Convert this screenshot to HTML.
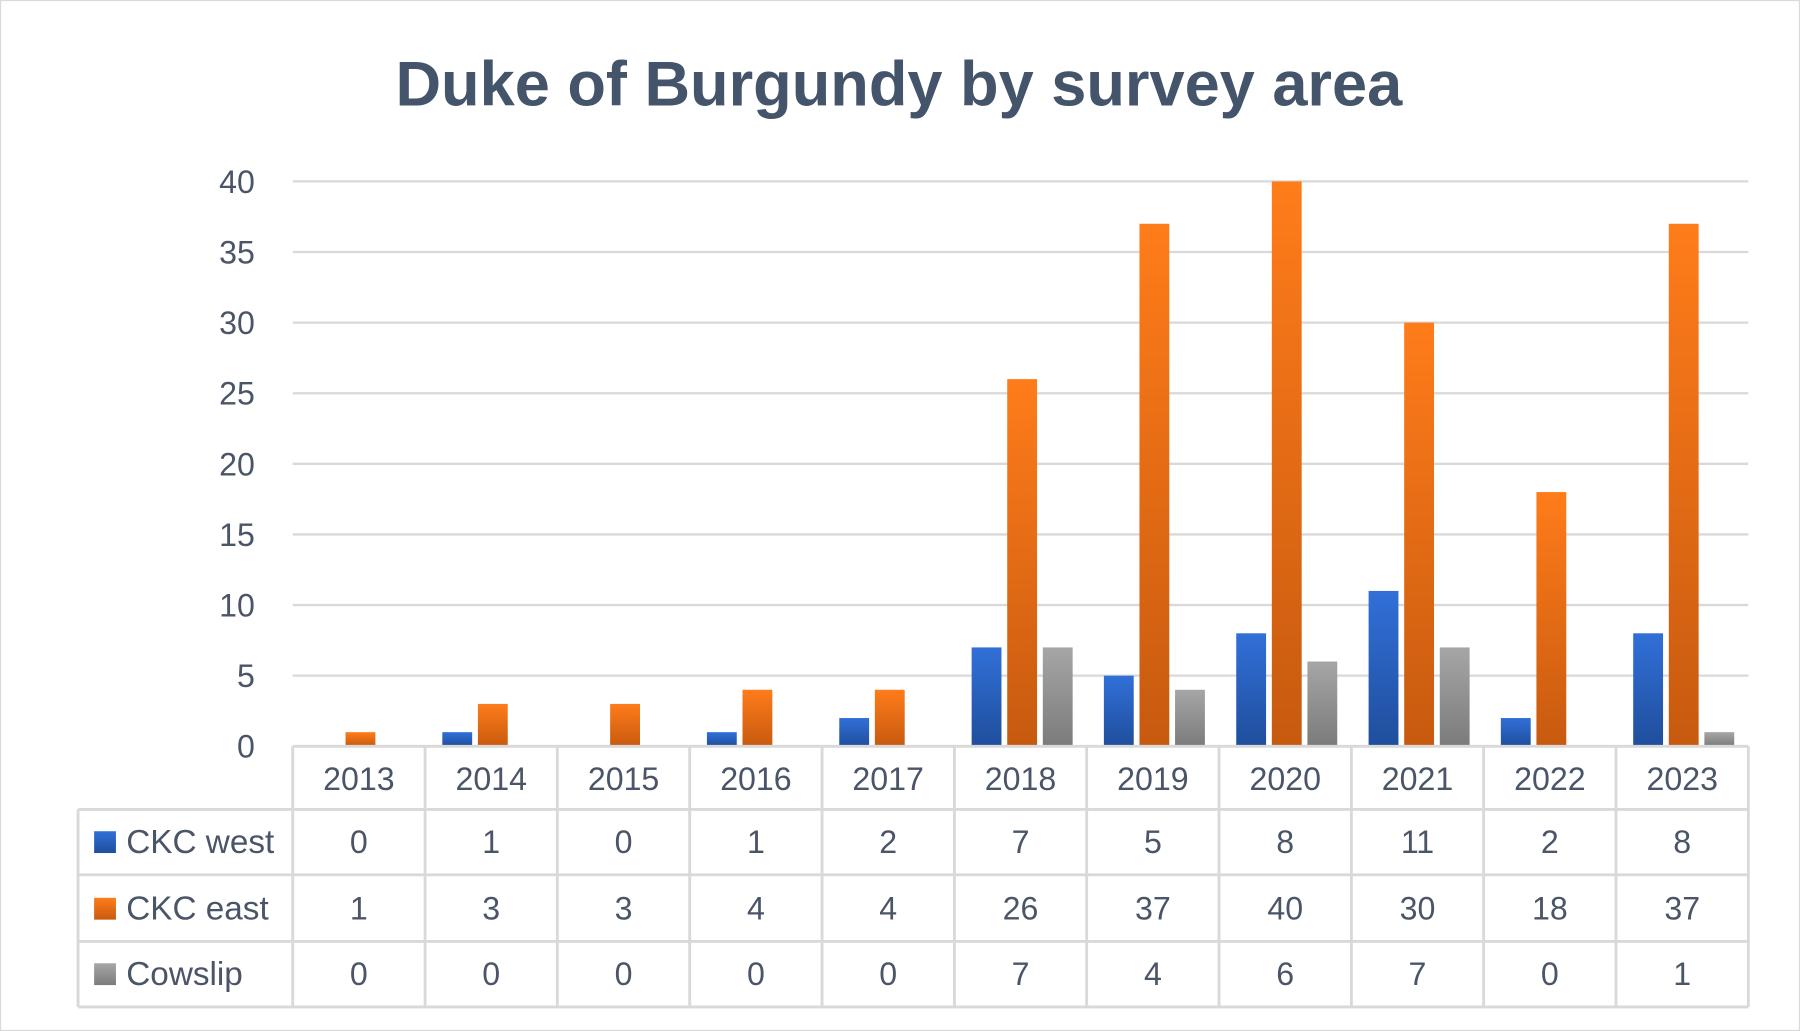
<!DOCTYPE html>
<html><head><meta charset="utf-8"><style>
html,body{margin:0;padding:0;background:#fff;}
svg{display:block;}
text{font-family:"Liberation Sans",sans-serif;fill:#4a5568;}
</style></head><body>
<svg width="1800" height="1031" viewBox="0 0 1568 898" preserveAspectRatio="none" xmlns="http://www.w3.org/2000/svg">
<defs>
<linearGradient id="gb" x1="0" y1="0" x2="0" y2="1"><stop offset="0" stop-color="#3170d8"/><stop offset="1" stop-color="#1f4e9c"/></linearGradient>
<linearGradient id="go" x1="0" y1="0" x2="0" y2="1"><stop offset="0" stop-color="#ff7c1a"/><stop offset="1" stop-color="#c75a0f"/></linearGradient>
<linearGradient id="gg" x1="0" y1="0" x2="0" y2="1"><stop offset="0" stop-color="#a6a6a6"/><stop offset="1" stop-color="#7b7b7b"/></linearGradient>
</defs>
<rect x="0.5" y="0.5" width="1567" height="897" fill="#fff" stroke="#d9d9d9"/>
<text x="783" y="92" text-anchor="middle" style="font-size:55px;font-weight:bold;fill:#44546a">Duke of Burgundy by survey area</text>
<g stroke="#d9d9d9" stroke-width="2">
<line x1="255" y1="158" x2="1523" y2="158"/><line x1="255" y1="219.5" x2="1523" y2="219.5"/><line x1="255" y1="281" x2="1523" y2="281"/><line x1="255" y1="342.5" x2="1523" y2="342.5"/><line x1="255" y1="404" x2="1523" y2="404"/><line x1="255" y1="465.5" x2="1523" y2="465.5"/><line x1="255" y1="527" x2="1523" y2="527"/><line x1="255" y1="588.5" x2="1523" y2="588.5"/>
</g>
<g style="font-size:28px" text-anchor="end">
<text x="222" y="168">40</text><text x="222" y="229.5">35</text><text x="222" y="291">30</text><text x="222" y="352.5">25</text><text x="222" y="414">20</text><text x="222" y="475.5">15</text><text x="222" y="537">10</text><text x="222" y="598.5">5</text><text x="222" y="660">0</text>
</g>
<g fill="url(#gb)">
<rect x="385.3" y="637.7" width="26" height="12.3"/><rect x="615.8" y="637.7" width="26" height="12.3"/><rect x="731.1" y="625.4" width="26" height="24.6"/><rect x="846.4" y="563.9" width="26" height="86.1"/><rect x="961.6" y="588.5" width="26" height="61.5"/><rect x="1076.9" y="551.6" width="26" height="98.4"/><rect x="1192.2" y="514.7" width="26" height="135.3"/><rect x="1307.4" y="625.4" width="26" height="24.6"/><rect x="1422.7" y="551.6" width="26" height="98.4"/>
</g>
<g fill="url(#go)">
<rect x="301" y="637.7" width="26" height="12.3"/><rect x="416.3" y="613.1" width="26" height="36.9"/><rect x="531.5" y="613.1" width="26" height="36.9"/><rect x="646.8" y="600.8" width="26" height="49.2"/><rect x="762.1" y="600.8" width="26" height="49.2"/><rect x="877.4" y="330.2" width="26" height="319.8"/><rect x="992.6" y="194.9" width="26" height="455.1"/><rect x="1107.9" y="158" width="26" height="492"/><rect x="1223.2" y="281" width="26" height="369"/><rect x="1338.4" y="428.6" width="26" height="221.4"/><rect x="1453.7" y="194.9" width="26" height="455.1"/>
</g>
<g fill="url(#gg)">
<rect x="908.4" y="563.9" width="26" height="86.1"/><rect x="1023.6" y="600.8" width="26" height="49.2"/><rect x="1138.9" y="576.2" width="26" height="73.8"/><rect x="1254.2" y="563.9" width="26" height="86.1"/><rect x="1484.7" y="637.7" width="26" height="12.3"/>
</g>
<g stroke="#d9d9d9" stroke-width="2.5">
<line x1="255" y1="650" x2="1523" y2="650"/>
<line x1="68" y1="705" x2="1523" y2="705"/><line x1="68" y1="762" x2="1523" y2="762"/><line x1="68" y1="820" x2="1523" y2="820"/><line x1="68" y1="877" x2="1523" y2="877"/>
<line x1="68" y1="705" x2="68" y2="877"/>
<line x1="255" y1="650" x2="255" y2="877"/><line x1="370.3" y1="650" x2="370.3" y2="877"/><line x1="485.5" y1="650" x2="485.5" y2="877"/><line x1="600.8" y1="650" x2="600.8" y2="877"/><line x1="716.1" y1="650" x2="716.1" y2="877"/><line x1="831.4" y1="650" x2="831.4" y2="877"/><line x1="946.6" y1="650" x2="946.6" y2="877"/><line x1="1061.9" y1="650" x2="1061.9" y2="877"/><line x1="1177.2" y1="650" x2="1177.2" y2="877"/><line x1="1292.4" y1="650" x2="1292.4" y2="877"/><line x1="1407.7" y1="650" x2="1407.7" y2="877"/><line x1="1523" y1="650" x2="1523" y2="877"/>
</g>
<g style="font-size:28px" text-anchor="middle">
<text x="312.6" y="688">2013</text><text x="427.9" y="688">2014</text><text x="543.2" y="688">2015</text><text x="658.5" y="688">2016</text><text x="773.7" y="688">2017</text><text x="889" y="688">2018</text><text x="1004.3" y="688">2019</text><text x="1119.6" y="688">2020</text><text x="1234.8" y="688">2021</text><text x="1350.1" y="688">2022</text><text x="1465.4" y="688">2023</text>
<text x="312.6" y="743">0</text><text x="427.9" y="743">1</text><text x="543.2" y="743">0</text><text x="658.5" y="743">1</text><text x="773.7" y="743">2</text><text x="889" y="743">7</text><text x="1004.3" y="743">5</text><text x="1119.6" y="743">8</text><text x="1234.8" y="743">11</text><text x="1350.1" y="743">2</text><text x="1465.4" y="743">8</text>
<text x="312.6" y="801">1</text><text x="427.9" y="801">3</text><text x="543.2" y="801">3</text><text x="658.5" y="801">4</text><text x="773.7" y="801">4</text><text x="889" y="801">26</text><text x="1004.3" y="801">37</text><text x="1119.6" y="801">40</text><text x="1234.8" y="801">30</text><text x="1350.1" y="801">18</text><text x="1465.4" y="801">37</text>
<text x="312.6" y="858">0</text><text x="427.9" y="858">0</text><text x="543.2" y="858">0</text><text x="658.5" y="858">0</text><text x="773.7" y="858">0</text><text x="889" y="858">7</text><text x="1004.3" y="858">4</text><text x="1119.6" y="858">6</text><text x="1234.8" y="858">7</text><text x="1350.1" y="858">0</text><text x="1465.4" y="858">1</text>
</g>
<rect x="82" y="724" width="19" height="19" fill="url(#gb)"/>
<rect x="82" y="782" width="19" height="19" fill="url(#go)"/>
<rect x="82" y="839" width="19" height="19" fill="url(#gg)"/>
<g style="font-size:29px">
<text x="110" y="743">CKC west</text>
<text x="110" y="801">CKC east</text>
<text x="110" y="858">Cowslip</text>
</g>
</svg>
</body></html>
